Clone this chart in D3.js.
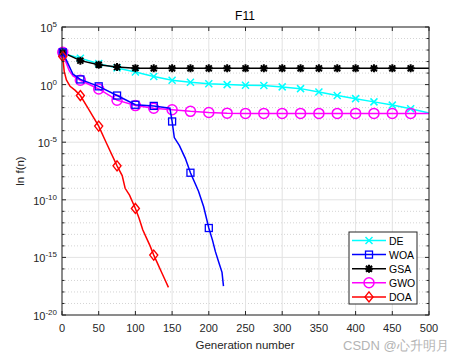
<!DOCTYPE html>
<html><head><meta charset="utf-8">
<script src="https://cdn.jsdelivr.net/npm/d3@7"></script>
<style>
body{margin:0;background:#fff;}
text{font-family:"Liberation Sans",Arial,Helvetica,sans-serif;}
</style></head>
<body><svg id="c" width="474" height="355"></svg>
<script>
// ---- data (log10 of fitness values) ----
const seriesNames = ["DE","WOA","GSA","GWO","DOA"];
const deGen  = [1,10,25,50,75,100,125,150,175,200,225,250,275,300,325,350,375,400,425,450,475,500];
const deLog  = [2.8,2.55,2.28,1.82,1.45,1.1,0.7,0.38,0.2,0.08,0.0,-0.05,-0.07,-0.2,-0.35,-0.64,-0.95,-1.22,-1.5,-1.78,-2.1,-2.47];
const woaGen = [1,15,25,50,75,100,125,140,147,150,153,160,168,175,186,193,200,205,209,214,218,220];
const woaLog = [2.8,0.9,0.45,-0.15,-0.95,-1.75,-1.85,-1.98,-2.05,-3.2,-4.6,-5.3,-6.4,-7.65,-9.25,-10.6,-12.45,-13.5,-14.5,-15.5,-16.3,-17.5];
const gsaGen = [1,25,50,75,100,125,150,175,200,225,250,275,300,325,350,375,400,425,450,475,500];
const gsaLog = [2.8,2.08,1.72,1.52,1.43,1.41,1.41,1.41,1.41,1.41,1.41,1.41,1.41,1.41,1.41,1.41,1.41,1.41,1.41,1.41,1.41];
const gwoGen = [1,5,10,15,25,50,75,100,125,150,175,200,225,250,275,300,325,350,375,400,425,450,475,500];
const gwoLog = [2.8,2.0,1.2,0.75,0.38,-0.38,-1.35,-1.82,-2.05,-2.18,-2.32,-2.42,-2.48,-2.5,-2.5,-2.5,-2.5,-2.5,-2.5,-2.5,-2.5,-2.5,-2.5,-2.5];
const doaGen = [1,3,6,11,18,25,35,50,60,75,82,86,92,100,105,110,115,120,125,130,135,140,145];
const doaLog = [2.45,1.15,0.4,-0.15,-0.5,-0.95,-2.0,-3.6,-5.0,-7.05,-7.9,-9.0,-9.6,-10.75,-11.6,-12.6,-13.3,-14.0,-14.8,-15.5,-16.2,-16.9,-17.6];
const markerGens = [1,25,50,75,100,125,150,175,200,225,250,275,300,325,350,375,400,425,450,475];
const xTicks = [0,50,100,150,200,250,300,350,400,450,500];
const yMajorExp = [5,0,-5,-10,-15,-20];
const yMinorExp = [4,3,2,1,-1,-2,-3,-4,-6,-7,-8,-9,-11,-12,-13,-14,-16,-17,-18,-19];

const colors = {DE:"#00ffff",WOA:"#0000ff",GSA:"#000000",GWO:"#ff00ff",DOA:"#ff0000"};
const symbols = {DE:"x",WOA:"square",GSA:"star",GWO:"circle",DOA:"diamond"};
const raw = {DE:[deGen,deLog],WOA:[woaGen,woaLog],GSA:[gsaGen,gsaLog],GWO:[gwoGen,gwoLog],DOA:[doaGen,doaLog]};

const L=62,R=429,T=27,B=315;
const svg=d3.select("#c");
const x=d3.scaleLinear().domain([0,500]).range([L,R]);
const y=d3.scaleLog().domain([1e-20,1e5]).range([B,T]);

// grid
const g=svg.append("g");
g.selectAll(".ymin").data(yMinorExp).join("line")
 .attr("x1",L).attr("x2",R).attr("y1",d=>y(Math.pow(10,d))).attr("y2",d=>y(Math.pow(10,d)))
 .attr("stroke","#d4d4d4").attr("stroke-width",1).attr("stroke-dasharray","1,2");
g.selectAll(".ymaj").data(yMajorExp).join("line")
 .attr("x1",L).attr("x2",R).attr("y1",d=>y(Math.pow(10,d))).attr("y2",d=>y(Math.pow(10,d)))
 .attr("stroke","#e3e3e3").attr("stroke-width",1);
g.selectAll(".xg").data(xTicks).join("line")
 .attr("y1",T).attr("y2",B).attr("x1",d=>x(d)).attr("x2",d=>x(d))
 .attr("stroke","#e3e3e3").attr("stroke-width",1);

// series
function pts(name){const [gs,ls]=raw[name];return gs.map((gg,i)=>[gg,Math.pow(10,ls[i])]);}
function marker(sel,sym,col){
  if(sym==="x"){sel.append("path").attr("d","M-3.5,-3.5L3.5,3.5M-3.5,3.5L3.5,-3.5").attr("stroke",col).attr("stroke-width",1.5).attr("fill","none");}
  else if(sym==="square"){sel.append("rect").attr("x",-3.5).attr("y",-3.5).attr("width",7).attr("height",7).attr("stroke",col).attr("stroke-width",1.3).attr("fill","none");}
  else if(sym==="circle"){sel.append("circle").attr("r",5).attr("stroke",col).attr("stroke-width",1.5).attr("fill","none");}
  else if(sym==="diamond"){sel.append("path").attr("d","M0,-5L4,0L0,5L-4,0Z").attr("stroke",col).attr("stroke-width",1.4).attr("fill","none");}
  else if(sym==="star"){sel.append("path").attr("d","M-4,0L4,0M0,-4L0,4M-3,-3L3,3M-3,3L3,-3").attr("stroke",col).attr("stroke-width",2).attr("fill","none");}
}
const line=d3.line().x(d=>x(d[0])).y(d=>y(d[1]));
const order=["DE","GSA","GWO","WOA","DOA"];
order.forEach(name=>{
  const p=pts(name);
  svg.append("path").datum(p).attr("d",line).attr("fill","none").attr("stroke",colors[name]).attr("stroke-width",1.5);
  const mp=p.filter(d=>markerGens.includes(d[0]));
  mp.forEach(d=>{const gm=svg.append("g").attr("transform",`translate(${x(d[0])},${y(d[1])})`);marker(gm,symbols[name],colors[name]);});
});

// axes box & ticks
const ax=svg.append("g");
ax.append("rect").attr("x",L).attr("y",T).attr("width",R-L).attr("height",B-T).attr("fill","none").attr("stroke","#262626").attr("stroke-width",1);
xTicks.forEach(t=>{
  ax.append("line").attr("x1",x(t)).attr("x2",x(t)).attr("y1",B).attr("y2",B-4).attr("stroke","#262626");
  ax.append("line").attr("x1",x(t)).attr("x2",x(t)).attr("y1",T).attr("y2",T+4).attr("stroke","#262626");
  ax.append("text").attr("x",x(t)).attr("y",332).attr("text-anchor","middle").attr("font-size",11).attr("fill","#262626").text(t);
});
yMajorExp.concat(yMinorExp).forEach(e=>{
  const len=yMajorExp.includes(e)?4:2.5, yy=y(Math.pow(10,e));
  ax.append("line").attr("x1",L).attr("x2",L+len).attr("y1",yy).attr("y2",yy).attr("stroke","#262626");
  ax.append("line").attr("x1",R).attr("x2",R-len).attr("y1",yy).attr("y2",yy).attr("stroke","#262626");
});
yMajorExp.forEach(e=>{
  const t=ax.append("text").attr("x",57).attr("y",y(Math.pow(10,e))+5).attr("text-anchor","end").attr("font-size",11).attr("fill","#262626");
  t.append("tspan").text("10");
  t.append("tspan").attr("dy",-5).attr("font-size",8).text(e);
});

// labels
svg.append("text").attr("x",245).attr("y",20).attr("text-anchor","middle").attr("font-size",12).attr("fill","#000").text("F11");
svg.append("text").attr("x",245).attr("y",349).attr("text-anchor","middle").attr("font-size",11.5).attr("fill","#262626").text("Generation number");
svg.append("text").attr("transform","translate(24,171) rotate(-90)").attr("text-anchor","middle").attr("font-size",11.5).attr("fill","#262626").text("ln f(n)");

// legend
const lg=svg.append("g");
lg.append("rect").attr("x",349).attr("y",232).attr("width",68).attr("height",72).attr("fill","#fff").attr("stroke","#262626");
seriesNames.forEach((n,i)=>{
  const yy=240.5+i*14.1;
  lg.append("line").attr("x1",352).attr("x2",386).attr("y1",yy).attr("y2",yy).attr("stroke",colors[n]).attr("stroke-width",1.5);
  const gm=lg.append("g").attr("transform",`translate(369,${yy})`);marker(gm,symbols[n],colors[n]);
  lg.append("text").attr("x",389).attr("y",yy+4).attr("font-size",10.5).attr("fill","#000").text(n);
});

// watermark
svg.append("text").attr("x",343).attr("y",350).attr("font-size",13).attr("fill","#b4b4b4")
 .attr("font-family","'Noto Sans CJK SC',sans-serif").text("CSDN @心升明月");
</script></body></html>
